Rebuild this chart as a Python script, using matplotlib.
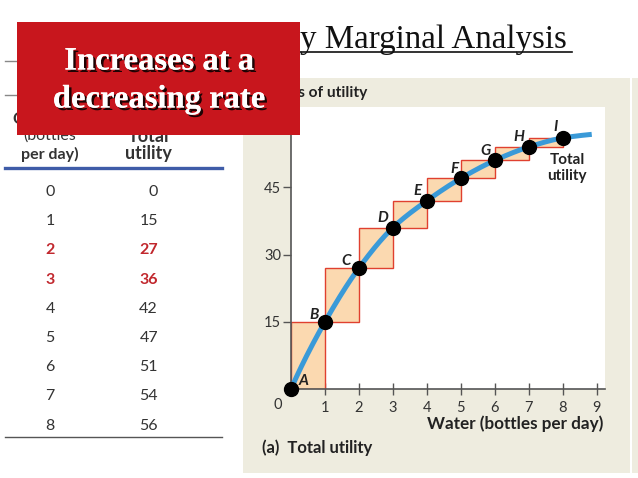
import numpy as np
import matplotlib
matplotlib.use("Agg")
import matplotlib.pyplot as plt
from matplotlib.patches import Rectangle
from matplotlib.lines import Line2D
import matplotlib.patheffects as pe

# ---------------- data ----------------
water = [0, 1, 2, 3, 4, 5, 6, 7, 8]
total_utility = [0, 15, 27, 36, 42, 47, 51, 54, 56]
point_labels = ["A", "B", "C", "D", "E", "F", "G", "H", "I"]
highlight_rows = [2, 3]
curve_end_x = 8.85
curve_end_y = 56.8
x_ticks = [1, 2, 3, 4, 5, 6, 7, 8, 9]
y_ticks = [15, 30, 45]

W, H = 638, 478
fig = plt.figure(figsize=(W / 100, H / 100), dpi=100)
fig.patch.set_facecolor("white")


def fx(x):
    return x / W


def fy(y):
    return 1 - y / H


SANS = ["Lato", "DejaVu Sans"]
SERIF = ["Liberation Serif", "DejaVu Serif"]
DARK = "#333333"

# ---------------- beige panel ----------------
fig.add_artist(Rectangle((fx(243), fy(473)), fx(630) - fx(243), fy(78) - fy(473),
                         transform=fig.transFigure, facecolor="#eeecdf",
                         edgecolor="none", zorder=-2))
fig.add_artist(Rectangle((fx(632), fy(473)), fx(638) - fx(632), fy(78) - fy(473),
                         transform=fig.transFigure, facecolor="#eeecdf",
                         edgecolor="none", zorder=-2))

# ---------------- chart axes ----------------
ax_l, ax_r, ax_b, ax_t = 291, 605, 389, 107
ax = fig.add_axes([fx(ax_l), fy(ax_b), fx(ax_r) - fx(ax_l), fy(ax_t) - fy(ax_b)])
ax.set_facecolor("white")
ax.set_xlim(0, 9.24)
ax.set_ylim(0, 62.9)
for s in ["top", "right"]:
    ax.spines[s].set_visible(False)
for s in ["left", "bottom"]:
    ax.spines[s].set_color("#555555")
    ax.spines[s].set_linewidth(1.2)

# step rectangles
for i in range(len(water) - 1):
    x0 = water[i]
    y0 = total_utility[i]
    y1 = total_utility[i + 1]
    ax.add_patch(Rectangle((x0, y0), water[i + 1] - x0, y1 - y0,
                           facecolor="#fbd9b0", edgecolor="#e0402f",
                           linewidth=1.0, zorder=2))

# smooth curve (monotone cubic Hermite through the data points)
cx = np.array(water + [curve_end_x], dtype=float)
cy = np.array(total_utility + [curve_end_y], dtype=float)
h = np.diff(cx)
d = np.diff(cy) / h
m = np.zeros_like(cx)
m[1:-1] = np.where(d[:-1] * d[1:] > 0,
                   (3 * (h[:-1] + h[1:])) / ((2 * h[1:] + h[:-1]) / d[:-1] + (h[1:] + 2 * h[:-1]) / d[1:]),
                   0)
m[0] = d[0] * 1.15
m[-1] = d[-1] * 0.8
xs, ys = [], []
for i in range(len(cx) - 1):
    t = np.linspace(0, 1, 40)
    h00 = 2 * t**3 - 3 * t**2 + 1
    h10 = t**3 - 2 * t**2 + t
    h01 = -2 * t**3 + 3 * t**2
    h11 = t**3 - t**2
    xs.append(cx[i] + t * h[i])
    ys.append(h00 * cy[i] + h10 * h[i] * m[i] + h01 * cy[i + 1] + h11 * h[i] * m[i + 1])
ax.plot(np.concatenate(xs), np.concatenate(ys), color="#3a9ad8", lw=3.6,
        solid_capstyle="butt", zorder=3, clip_on=False)

ax.plot(water, total_utility, "o", color="black", markersize=10, zorder=4, clip_on=False)

label_offsets = [(9, 6), (-8, 5), (-9, 5), (-7, 7), (-7, 7), (-5, 7), (-7, 7), (-7, 7), (-5, 8)]
for xv, yv, lab, off in zip(water, total_utility, point_labels, label_offsets):
    ax.annotate(lab, (xv, yv), xytext=off, textcoords="offset points",
                ha="center", va="center", fontsize=11, fontweight="bold",
                fontstyle="italic", color="#222222", family=SANS, zorder=5)

ax.text(8.12, 49.3, "Total\nutility", ha="center", va="center", fontsize=11,
        fontweight="bold", color="#222222", family=SANS, linespacing=1.2)

ax.set_xticks(x_ticks)
ax.set_xticklabels([str(v) for v in x_ticks])
ax.set_yticks(y_ticks)
ax.set_yticklabels([str(v) for v in y_ticks])
ax.tick_params(axis="x", direction="inout", length=8, width=1, colors="#555555",
               labelcolor="#333333", labelsize=10.5, pad=5)
ax.tick_params(axis="y", direction="out", length=6, width=1, colors="#555555",
               labelcolor="#333333", labelsize=10.5, pad=1)
for lbl in ax.get_xticklabels() + ax.get_yticklabels():
    lbl.set_family(SANS)

fig.text(fx(278), fy(405), "0", ha="center", va="center", fontsize=10.5, color="#333333",
         family=SANS)
fig.text(fx(603), fy(424), "Water (bottles per day)", ha="right", va="center",
         fontsize=12.3, fontweight="bold", color="#222222", family=SANS)
fig.text(fx(262), fy(448), "(a)  Total utility", ha="left", va="center",
         fontsize=12, fontweight="bold", color="#222222", family=SANS)
fig.text(fx(367), fy(93), "Units of utility", ha="right", va="center",
         fontsize=11.2, fontweight="bold", color="#222222", family=SANS, zorder=3)

# ---------------- title ----------------
title = fig.text(fx(300), fy(48), "y Marginal Analysis", ha="left", va="baseline",
                 fontsize=23.8, color="#111111", family=SERIF)

# ---------------- table ----------------
for yl, col in [(61, "#888888"), (95, "#888888")]:
    fig.add_artist(Line2D([fx(5), fx(222)], [fy(yl), fy(yl)], transform=fig.transFigure,
                          color=col, lw=1.0, zorder=2))
fig.add_artist(Line2D([fx(5), fx(222)], [fy(168), fy(168)], transform=fig.transFigure,
                      color="#3f5ca8", lw=2.4, zorder=2))
fig.add_artist(Line2D([fx(5), fx(222)], [fy(437), fy(437)], transform=fig.transFigure,
                      color="#555555", lw=1.0, zorder=2))

fig.text(fx(12), fy(119), "Quantity", ha="left", va="center", fontsize=12,
         fontweight="bold", color=DARK, family=SANS, zorder=3)
fig.text(fx(50), fy(136), "(bottles", ha="center", va="center", fontsize=11.5,
         color=DARK, family=SANS, zorder=3)
fig.text(fx(50), fy(154), "per day)", ha="center", va="center", fontsize=11.5,
         fontweight="bold", color=DARK, family=SANS, zorder=3)
fig.text(fx(148), fy(136), "Total", ha="center", va="center", fontsize=13,
         fontweight="bold", color=DARK, family=SANS, zorder=3)
fig.text(fx(148), fy(154), "utility", ha="center", va="center", fontsize=13,
         fontweight="bold", color=DARK, family=SANS, zorder=3)

row_y0, row_dy = 192, 29.2
for i, (q, tu) in enumerate(zip(water, total_utility)):
    yy = row_y0 + i * row_dy
    red = i in highlight_rows
    c = "#c1272d" if red else DARK
    wgt = "bold" if red else "normal"
    fig.text(fx(50), fy(yy), str(q), ha="center", va="center", fontsize=11.5,
             color=c, fontweight=wgt, family=SANS)
    fig.text(fx(158), fy(yy), str(tu), ha="right", va="center", fontsize=11.5,
             color=c, fontweight=wgt, family=SANS)

# ---------------- red callout box ----------------
fig.add_artist(Rectangle((fx(17), fy(135)), fx(300) - fx(17), fy(22) - fy(135),
                         transform=fig.transFigure, facecolor="#c8161d",
                         edgecolor="none", zorder=10))
shadow = [pe.withSimplePatchShadow(offset=(1.8, -1.8), shadow_rgbFace="black", alpha=0.85),
          pe.Normal()]
fig.text(fx(159), fy(61), "Increases at a", ha="center", va="center", fontsize=23.5,
         fontweight="bold", color="white", family=SERIF, zorder=11, path_effects=shadow)
fig.text(fx(159), fy(99), "decreasing rate", ha="center", va="center", fontsize=23.5,
         fontweight="bold", color="white", family=SERIF, zorder=11, path_effects=shadow)

# underline for title
fig.canvas.draw()
bb = title.get_window_extent().transformed(fig.transFigure.inverted())
fig.add_artist(Line2D([bb.x0, bb.x1 + fx(5)], [fy(52), fy(52)], transform=fig.transFigure,
                      color="#111111", lw=1.2, zorder=3))

fig.savefig("out.png", dpi=100, facecolor="white")
